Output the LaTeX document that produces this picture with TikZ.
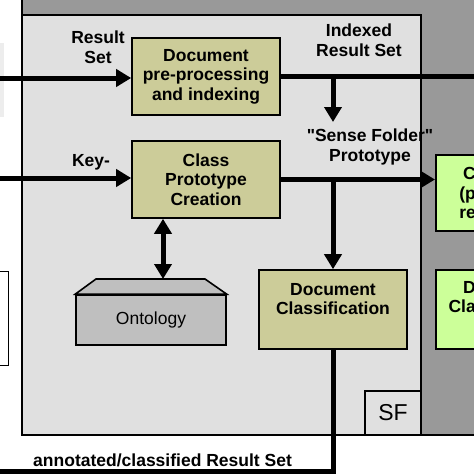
\documentclass[tikz,border=0pt]{standalone}
\usepackage{fontspec}
\setmainfont{Liberation Sans}[Ligatures=TeXOff]
\usetikzlibrary{arrows.meta,positioning}
\definecolor{khaki}{RGB}{204,204,153}
\definecolor{lime}{RGB}{204,255,153}

\begin{document}
\begin{tikzpicture}[x=1pt,y=-1pt,
    procbox/.style={draw,line width=1.6pt,fill=khaki,minimum width=148pt,minimum height=77pt,
      align=center,inner sep=0pt,font=\bfseries\fontsize{17.5}{19.5}\selectfont},
    grnbox/.style={draw,line width=1.6pt,fill=lime,minimum width=60pt,minimum height=76pt,anchor=west},
    boxtxt/.style={align=right,anchor=east,inner sep=0pt,font=\bfseries\fontsize{17.5}{19.5}\selectfont},
    lbl/.style={align=center,inner sep=0pt,font=\bfseries\fontsize{17.5}{20.5}\selectfont},
    flow/.style={line width=5pt,-{Triangle[length=15pt,width=17pt]}},
    wire/.style={line width=5pt}]
	\useasboundingbox (0,0) rectangle (474,474);
	\clip (0,0) rectangle (474,474);
	
	\fill[black!7] (-5,43) rectangle (4,117);
	\draw[line width=1pt,fill=white] (-5,271) rectangle (8,365);
	
	\draw[line width=1.6pt,fill=black!40] (22,-5) rectangle (480,435);
	\draw[line width=1.6pt,fill=black!12] (22,15) rectangle (421,435);
	\node[draw,line width=1.6pt,fill=black!12,minimum width=56pt,minimum height=44pt,
	  font=\fontsize{23}{26}\selectfont] (sfbox) at (393,413) {SF};
	
	\node[procbox] (doc) at (206,76.5) {Document\\pre-processing\\and indexing};
	\node[procbox] (proto) at (206,179.5) {Class\\Prototype\\Creation};
	\node[procbox,minimum height=79pt] (dcls) at (333,309.5) {Document\\Classification\\[2pt]\mbox{}};
	
	\node[grnbox] (clus) at (435,193) {};
	\node[boxtxt] (clustxt) at (476,193) {C\\(p\\re};
	\node[grnbox,minimum height=79pt] (dclas) at (435,309.5) {};
	\node[boxtxt] (dclastxt) at (476,297) {D\\Cla};
	
	\node[draw,line width=1.6pt,fill=black!25,minimum width=150pt,minimum height=50pt,
	  font=\fontsize{17.5}{20}\selectfont] (onto) at (151,320) {Ontology};
	\draw[line width=1.6pt,fill=black!25] (onto.north west) -- (96,279) -- (205,279) -- (onto.north east) -- cycle;
	
	\node[lbl] (rslbl) at (98,47) {Result\\Set};
	\node[lbl] (keylbl) at (91,162) {Key-};
	\node[lbl] (idxlbl) at (359,40) {Indexed\\Result Set};
	\node[lbl] (sflbl) at (370,147) {"Sense Folder"\\Prototype};
	\node[lbl,anchor=west] (aclbl) at (33,460) {annotated/classified Result Set};
	
	\coordinate (rsin) at (0,78);
	\coordinate (keyin) at (0,178);
	\coordinate (idxout) at (474,77);
	\coordinate (sftip) at (333,122);
	\coordinate (ontotop) at (163,279);
	\coordinate (acout) at (0,471);
	
	\draw[flow] (rsin) -- (rsin -| doc.west);
	\draw[flow] (keyin) -- (keyin -| proto.west);
	\draw[wire] (doc.east) -- (doc.east -| idxout);
	\draw[flow] (sftip |- doc.east) -- (sftip);
	\draw[flow] (proto.east) -- (proto.east -| clus.west);
	\draw[flow] (proto.east -| dcls.north) -- (dcls.north);
	\draw[wire] (dcls.south) |- (acout);
	\draw[line width=5pt,{Triangle[length=15pt,width=17pt]}-{Triangle[length=15pt,width=17pt]}]
	  (ontotop |- proto.south) -- (ontotop);
\end{tikzpicture}
\end{document}
